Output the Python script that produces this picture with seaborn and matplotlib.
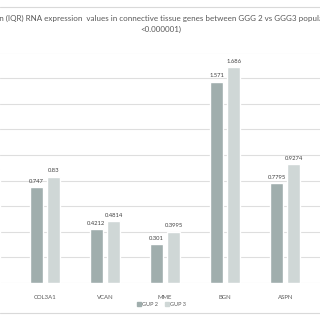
import pandas as pd
import matplotlib
matplotlib.use("Agg")
import matplotlib.pyplot as plt
import seaborn as sns
from matplotlib.lines import Line2D

# data (first gene is cut off at the left edge)
genes = ["COL1A1", "COL3A1", "VCAN", "MME", "BGN", "ASPN"]
gup2 = [0.752, 0.747, 0.4212, 0.301, 1.571, 0.7795]
gup3 = [0.8878, 0.83, 0.4814, 0.3995, 1.686, 0.9274]
labels2 = ["0.752", "0.747", "0.4212", "0.301", "1.571", "0.7795"]
labels3 = ["0.8878", "0.83", "0.4814", "0.3995", "1.686", "0.9274"]
groups = ["GUP 2", "GUP 3"]

df = pd.DataFrame({
    "gene": genes * 2,
    "value": gup2 + gup3,
    "group": [groups[0]] * len(genes) + [groups[1]] * len(genes),
})

sns.set_style("white")
plt.rcParams["font.family"] = ["Lato", "DejaVu Sans"]

fig = plt.figure(figsize=(3.2, 3.2), dpi=100)
ax = fig.add_axes([0, 37 / 320, 1, 230.5 / 320])

colors = ["#a0aead", "#cfd7d6"]
sns.barplot(data=df, x="gene", y="value", hue="group", palette=colors,
            width=0.572, gap=0.227, ax=ax, legend=False, saturation=1)

# value labels
for cont, labs in zip(ax.containers, [labels2, labels3]):
    ax.bar_label(cont, labels=labs, padding=2.5, fontsize=4.2, color="#404040",
                 clip_on=False)

ax.set_ylim(0, 1.8)
ax.set_xlim(0.254, 0.254 + 320 / 60.1)
ax.set_yticks([i * 0.2 for i in range(10)])
ax.grid(axis="y", color="#dedede", linewidth=0.8)
ax.set_axisbelow(True)
for s in ax.spines.values():
    s.set_visible(False)
ax.tick_params(axis="y", left=False, labelleft=False)
ax.tick_params(axis="x", bottom=False, labelsize=4.3, labelcolor="#595959", pad=5)
ax.set_xlabel("")
ax.set_ylabel("")

# title
fig.text(0.51, 0.944,
         "Median (IQR) RNA expression  values in connective tissue genes between GGG 2 vs GGG3 populations (p",
         ha="center", va="center", fontsize=5.75, color="#595959")
fig.text(0.503, 0.909, "<0.000001)", ha="center", va="center", fontsize=5.75, color="#595959")

# legend
handles = [Line2D([], [], marker="s", linestyle="", color=c, markersize=2.5) for c in colors]
fig.legend(handles, groups, loc="center", bbox_to_anchor=(0.505, 0.05), ncol=2,
           frameon=False, fontsize=4, labelcolor="#595959", handletextpad=0.2,
           columnspacing=1.2, handlelength=0.8)

# chart area border
for yy in (7 / 320, 313 / 320):
    fig.add_artist(Line2D([0, 1], [1 - yy, 1 - yy], color="#d9d9d9", linewidth=0.8,
                          transform=fig.transFigure))

fig.savefig("out.png", dpi=100, facecolor="white")
